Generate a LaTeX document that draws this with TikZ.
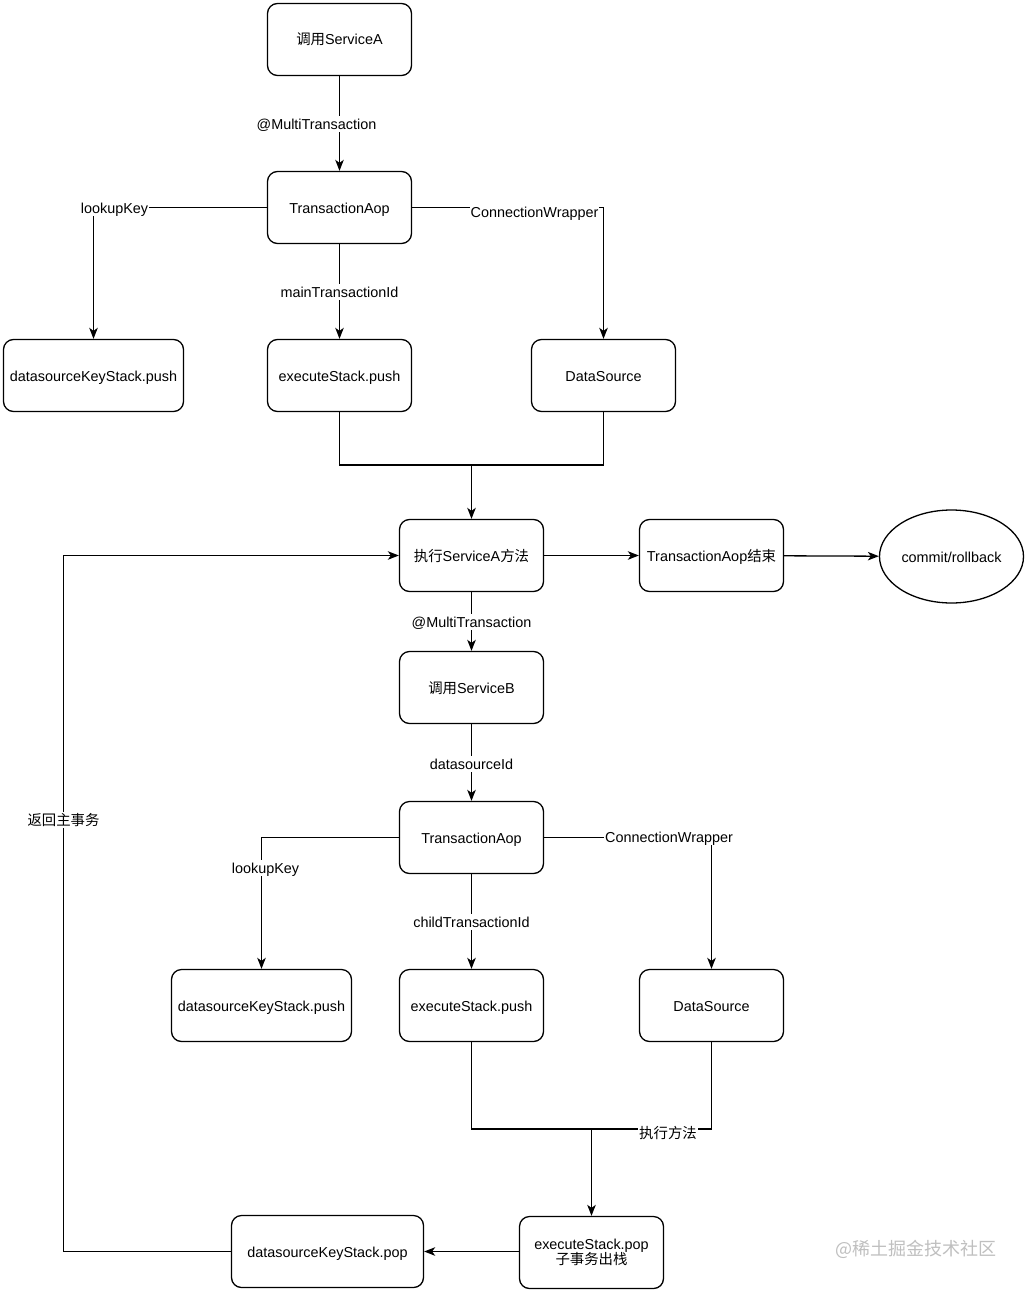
\documentclass[tikz,border=0pt]{standalone}
\usepackage{fontspec}
\setmainfont{Liberation Sans}
\newfontfamily\cjk{Noto Sans CJK SC}
\usetikzlibrary{arrows.meta,shapes.geometric}
\tikzset{
  boxbase/.style={draw, rectangle, rounded corners=10pt, line width=1.3pt, minimum width=144pt, minimum height=72pt, align=center, inner sep=2pt, font=\fontsize{14.4}{16}\selectfont},
  box/.style={boxbase, text height=12.6pt, text depth=1.6pt},
  ell/.style={draw, ellipse, line width=1.3pt, minimum width=144pt, minimum height=93pt, inner sep=0pt, text height=12.6pt, text depth=1.6pt, font=\fontsize{14.4}{16}\selectfont},
  conn/.style={line width=1.3pt},
  arr/.style={conn, -{Stealth[length=11pt,width=8.5pt,inset=3pt]}},
  lbl/.style={fill=white, inner sep=1pt, text height=12.6pt, text depth=1.6pt, font=\fontsize{14.4}{16}\selectfont}
}
\begin{document}
\begin{tikzpicture}[x=1pt,y=-1pt]
\useasboundingbox (0,0) rectangle (1028,1292);
\fill[white] (0,0) rectangle (1028,1292);
% nodes
\node[box] (sa) at (339.5,39.5) {{\cjk 调用}ServiceA};
\node[box] (ta1) at (339.5,207.5) {TransactionAop};
\node[box, minimum width=180pt] (dk1) at (93.5,375.5) {datasourceKeyStack.push};
\node[box] (es1) at (339.5,375.5) {executeStack.push};
\node[box] (ds1) at (603.5,375.5) {DataSource};
\node[box] (xa) at (471.5,555.5) {{\cjk 执行}ServiceA{\cjk 方法}};
\node[box] (tae) at (711.5,555.5) {TransactionAop{\cjk 结束}};
\node[ell] (cr) at (951.5,556.5) {commit/rollback};
\node[box] (sb) at (471.5,687.5) {{\cjk 调用}ServiceB};
\node[box] (ta2) at (471.5,837.5) {TransactionAop};
\node[box, minimum width=180pt] (dk2) at (261.5,1005.5) {datasourceKeyStack.push};
\node[box] (es2) at (471.5,1005.5) {executeStack.push};
\node[box] (ds2) at (711.5,1005.5) {DataSource};
\node[boxbase] (ep) at (591.5,1252.5) {executeStack.pop\\[-1pt]{\cjk 子事务出栈}};
\node[box, minimum width=192pt] (dkp) at (327.5,1251.5) {datasourceKeyStack.pop};
% coordinates
\coordinate (j1) at (471.5,465);
\coordinate (j2) at (591.5,1129);
\coordinate (r1) at (63.5,1251.5);
% connectors
\draw[arr] (sa) -- (ta1);
\draw[arr] (ta1.west) -| (dk1.north);
\draw[arr] (ta1) -- (es1);
\draw[arr] (ta1.east) -| (ds1.north);
\draw[conn] (es1.south) |- (j1) -| (ds1.south);
\draw[arr] (j1) -- (xa.north);
\draw[arr] (xa) -- (tae);
\draw[arr] (tae) -- (cr);
\draw[arr] (xa) -- (sb);
\draw[arr] (sb) -- (ta2);
\draw[arr] (ta2.west) -| (dk2.north);
\draw[arr] (ta2) -- (es2);
\draw[arr] (ta2.east) -| (ds2.north);
\draw[conn] (es2.south) |- (j2) -| (ds2.south);
\draw[arr] (j2) -- (ep.north);
\draw[arr] (ep.west |- dkp.east) -- (dkp.east);
\draw[arr] (dkp.west) -- (r1) |- (xa.west);
% labels
\node[lbl] (l1) at (316.5,124) {@MultiTransaction};
\node[lbl] (l2) at (114.5,208) {lookupKey};
\node[lbl] (l3) at (534.5,212) {ConnectionWrapper};
\node[lbl] (l4) at (339.5,292) {mainTransactionId};
\node[lbl] (l5) at (471.5,622) {@MultiTransaction};
\node[lbl] (l6) at (471.5,764) {datasourceId};
\node[lbl] (l7) at (265.5,868) {lookupKey};
\node[lbl] (l8) at (669,837) {ConnectionWrapper};
\node[lbl] (l9) at (471.5,922) {childTransactionId};
\node[lbl] (l10) at (668,1133) {\cjk 执行方法};
\node[lbl] (l11) at (63.5,820) {\cjk 返回主事务};
\node[text=black!25, font=\fontsize{18}{20}\selectfont\cjk] (wm) at (916,1249) {@稀土掘金技术社区};
\end{tikzpicture}
\end{document}
